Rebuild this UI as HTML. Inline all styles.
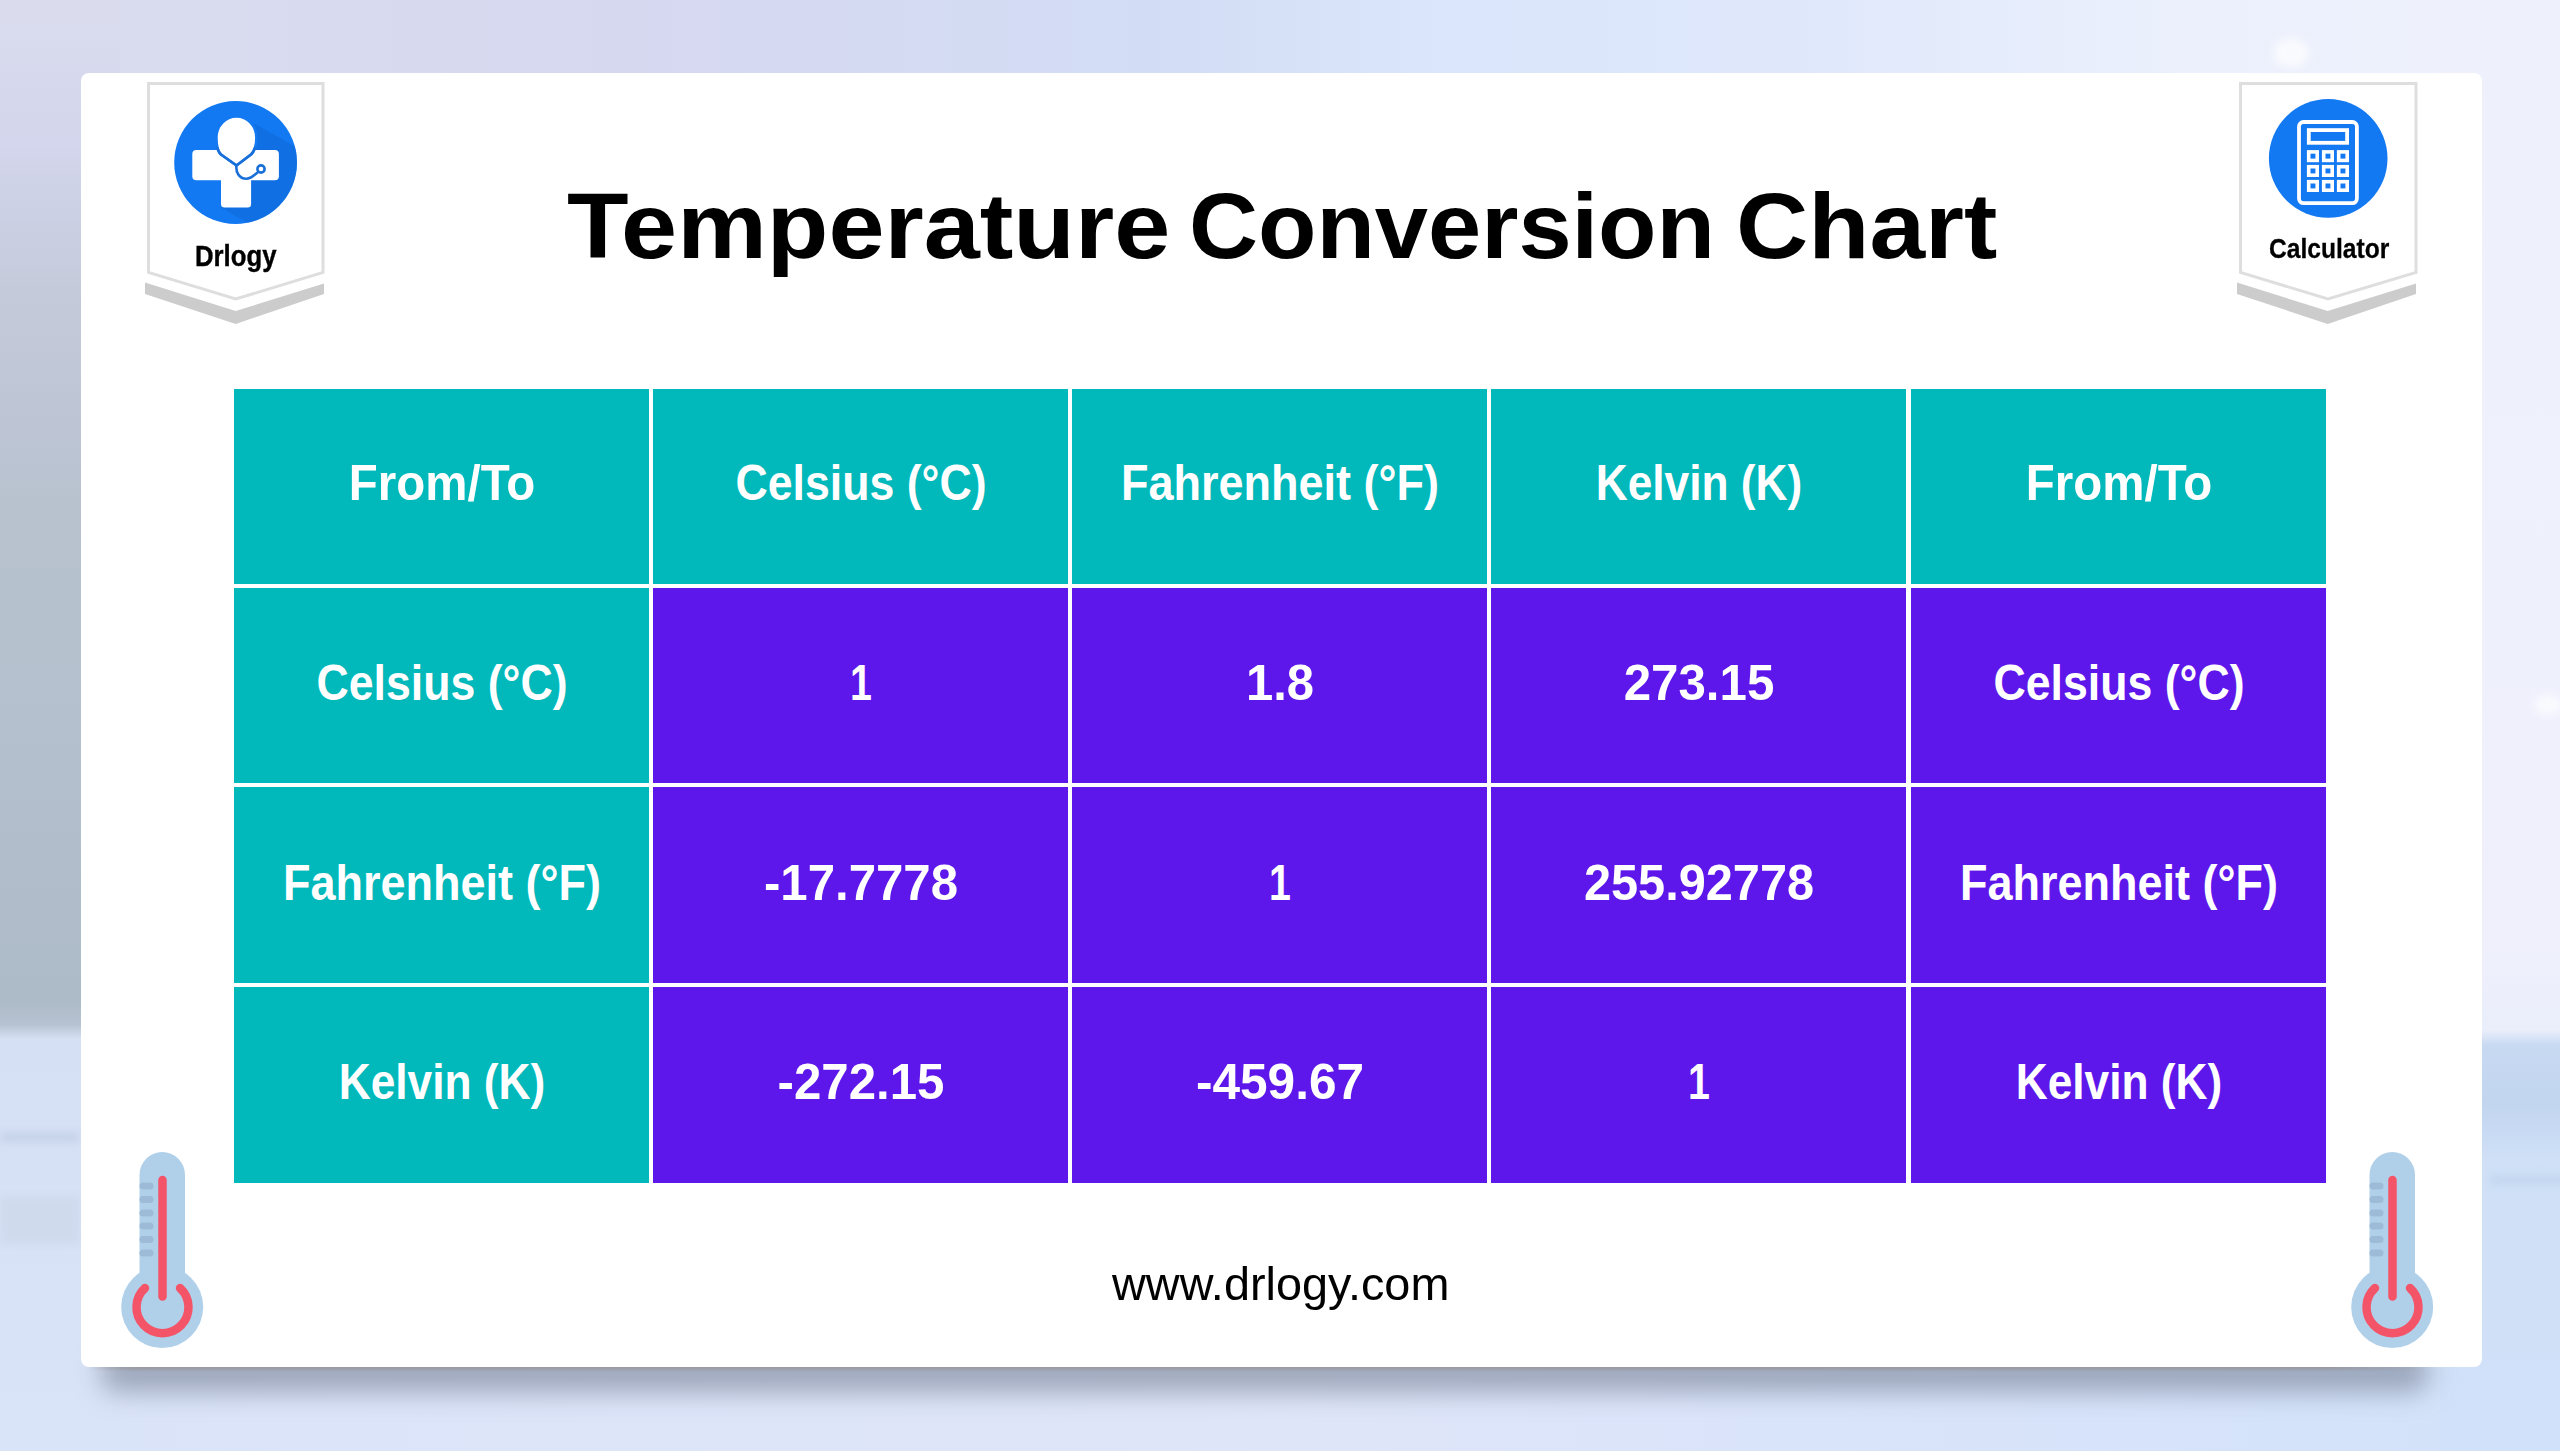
<!DOCTYPE html>
<html><head><meta charset="utf-8">
<style>
html,body{margin:0;padding:0;}
body{width:2560px;height:1451px;position:relative;overflow:hidden;font-family:"Liberation Sans",sans-serif;
background:#d6dcf0;}
.bg{position:absolute;left:0;top:0;width:2560px;height:1451px;}
.card{position:absolute;left:81px;top:73px;width:2401px;height:1294px;background:#fff;border-radius:8px;}
.shadow{position:absolute;left:100px;top:1352px;width:2330px;height:40px;background:rgba(115,125,145,0.6);filter:blur(13px);border-radius:20px;}
.sline{position:absolute;left:88px;top:1365px;width:2340px;height:5px;background:linear-gradient(to right,rgba(150,150,155,0.0),rgba(150,150,155,0.75) 2%,rgba(150,150,155,0.75) 96%,rgba(150,150,155,0));filter:blur(1px);}
.t{position:absolute;white-space:nowrap;line-height:1;}
.title{font-weight:bold;font-size:93px;line-height:93px;color:#000;}
.cell{position:absolute;width:415px;height:195px;}
.teal{background:#01b8bb;}
.purp{background:#5e17eb;}
.ct{position:absolute;width:0;height:49px;color:#fff;font-weight:bold;font-size:49.5px;line-height:49.5px;}
.ct span{position:absolute;left:0;top:0;white-space:nowrap;display:block;transform-origin:50% 50%;}
</style></head>
<body>
<svg class="bg" width="2560" height="1451" viewBox="0 0 2560 1451">
  <defs>
    <filter id="bl8" x="-50%" y="-50%" width="200%" height="200%"><feGaussianBlur stdDeviation="8"/></filter>
    <filter id="bl4" x="-50%" y="-50%" width="200%" height="200%"><feGaussianBlur stdDeviation="4"/></filter>
    <linearGradient id="bgT" x1="0" y1="0" x2="2560" y2="0" gradientUnits="userSpaceOnUse">
      <stop offset="0" stop-color="#dadcee"/>
      <stop offset="0.25" stop-color="#d6d8f0"/>
      <stop offset="0.45" stop-color="#d2ddf5"/>
      <stop offset="0.55" stop-color="#dae5fb"/>
      <stop offset="0.7" stop-color="#dfe8fb"/>
      <stop offset="0.85" stop-color="#ebf0fc"/>
      <stop offset="1" stop-color="#eef1fc"/>
    </linearGradient>
    <linearGradient id="bgL" x1="0" y1="0" x2="0" y2="1451" gradientUnits="userSpaceOnUse">
      <stop offset="0" stop-color="#dadcee"/>
      <stop offset="0.1" stop-color="#d3d6ec"/>
      <stop offset="0.2" stop-color="#c5cadb"/>
      <stop offset="0.35" stop-color="#b8c2cf"/>
      <stop offset="0.5" stop-color="#b4c0cd"/>
      <stop offset="0.69" stop-color="#adbac7"/>
      <stop offset="0.706" stop-color="#b6c2d1"/>
      <stop offset="0.716" stop-color="#d6e0f4"/>
      <stop offset="1" stop-color="#dae4f8"/>
    </linearGradient>
    <linearGradient id="bgR" x1="0" y1="0" x2="0" y2="1451" gradientUnits="userSpaceOnUse">
      <stop offset="0" stop-color="#eef1fc"/>
      <stop offset="0.65" stop-color="#eff0fc"/>
      <stop offset="0.71" stop-color="#eaeefb"/>
      <stop offset="0.72" stop-color="#c8daf2"/>
      <stop offset="0.76" stop-color="#c2d5ef"/>
      <stop offset="0.8" stop-color="#cfe0f7"/>
      <stop offset="1" stop-color="#d0e1f9"/>
    </linearGradient>
    <linearGradient id="bgB" x1="0" y1="0" x2="2560" y2="0" gradientUnits="userSpaceOnUse">
      <stop offset="0" stop-color="#dae4f8"/>
      <stop offset="0.5" stop-color="#dfe5f9"/>
      <stop offset="1" stop-color="#d2e2fa"/>
    </linearGradient>
  </defs>
  <rect x="0" y="0" width="2560" height="1451" fill="url(#bgB)"/>
  <rect x="0" y="0" width="2560" height="200" fill="url(#bgT)"/>
  <rect x="0" y="0" width="120" height="1451" fill="url(#bgL)"/>
  <rect x="2440" y="0" width="120" height="1451" fill="url(#bgR)"/>
  <g filter="url(#bl4)" opacity="0.7">
    <rect x="0" y="1132" width="80" height="10" fill="#bccbe2"/>
    <rect x="0" y="1195" width="80" height="50" fill="#cdd7ea"/>
    <ellipse cx="2291" cy="53" rx="18" ry="15" fill="#ffffff"/>
    <ellipse cx="2548" cy="705" rx="14" ry="10" fill="#ffffff"/>
    <rect x="2490" y="1175" width="80" height="10" fill="#c0d2ec"/>
  </g>
</svg>
<div class="shadow"></div>
<div class="sline"></div>
<div class="card"></div>

<!-- title -->
<div class="t title" style="left:567px;top:179.5px;transform-origin:0 0;transform:scaleX(1.084)">Temperature</div>
<div class="t title" style="left:1189px;top:179.5px;transform-origin:0 0;transform:scaleX(1.028)">Conversion</div>
<div class="t title" style="left:1736px;top:179.5px;transform-origin:0 0;transform:scaleX(1.076)">Chart</div>

<!-- table -->
<div id="table">
<div class="cell teal" style="left:234px;top:389px;height:195px"></div>
<div class="cell teal" style="left:653px;top:389px;height:195px"></div>
<div class="cell teal" style="left:1072px;top:389px;height:195px"></div>
<div class="cell teal" style="left:1491px;top:389px;height:195px"></div>
<div class="cell teal" style="left:1911px;top:389px;height:195px"></div>
<div class="cell teal" style="left:234px;top:588px;height:195px"></div>
<div class="cell purp" style="left:653px;top:588px;height:195px"></div>
<div class="cell purp" style="left:1072px;top:588px;height:195px"></div>
<div class="cell purp" style="left:1491px;top:588px;height:195px"></div>
<div class="cell purp" style="left:1911px;top:588px;height:195px"></div>
<div class="cell teal" style="left:234px;top:787px;height:196px"></div>
<div class="cell purp" style="left:653px;top:787px;height:196px"></div>
<div class="cell purp" style="left:1072px;top:787px;height:196px"></div>
<div class="cell purp" style="left:1491px;top:787px;height:196px"></div>
<div class="cell purp" style="left:1911px;top:787px;height:196px"></div>
<div class="cell teal" style="left:234px;top:987px;height:196px"></div>
<div class="cell purp" style="left:653px;top:987px;height:196px"></div>
<div class="cell purp" style="left:1072px;top:987px;height:196px"></div>
<div class="cell purp" style="left:1491px;top:987px;height:196px"></div>
<div class="cell purp" style="left:1911px;top:987px;height:196px"></div>
<div class="ct" style="left:441.5px;top:458.0px"><span style="transform:translateX(-50%) scaleX(0.9592)">From/To</span></div>
<div class="ct" style="left:860.5px;top:458.0px"><span style="transform:translateX(-50%) scaleX(0.9024)">Celsius (°C)</span></div>
<div class="ct" style="left:1279.5px;top:458.0px"><span style="transform:translateX(-50%) scaleX(0.9093)">Fahrenheit (°F)</span></div>
<div class="ct" style="left:1699.0px;top:458.0px"><span style="transform:translateX(-50%) scaleX(0.8946)">Kelvin (K)</span></div>
<div class="ct" style="left:2118.5px;top:458.0px"><span style="transform:translateX(-50%) scaleX(0.9592)">From/To</span></div>
<div class="ct" style="left:441.5px;top:658.0px"><span style="transform:translateX(-50%) scaleX(0.9024)">Celsius (°C)</span></div>
<div class="ct" style="left:860.5px;top:658.0px"><span style="transform:translateX(-50%) scaleX(0.7936)">1</span></div>
<div class="ct" style="left:1279.5px;top:658.0px"><span style="transform:translateX(-50%) scaleX(0.9896)">1.8</span></div>
<div class="ct" style="left:1699.0px;top:658.0px"><span style="transform:translateX(-50%) scaleX(0.9955)">273.15</span></div>
<div class="ct" style="left:2118.5px;top:658.0px"><span style="transform:translateX(-50%) scaleX(0.9024)">Celsius (°C)</span></div>
<div class="ct" style="left:441.5px;top:857.5px"><span style="transform:translateX(-50%) scaleX(0.9093)">Fahrenheit (°F)</span></div>
<div class="ct" style="left:860.5px;top:857.5px"><span style="transform:translateX(-50%) scaleX(0.9935)">-17.7778</span></div>
<div class="ct" style="left:1279.5px;top:857.5px"><span style="transform:translateX(-50%) scaleX(0.7936)">1</span></div>
<div class="ct" style="left:1699.0px;top:857.5px"><span style="transform:translateX(-50%) scaleX(0.9837)">255.92778</span></div>
<div class="ct" style="left:2118.5px;top:857.5px"><span style="transform:translateX(-50%) scaleX(0.9093)">Fahrenheit (°F)</span></div>
<div class="ct" style="left:441.5px;top:1057.2px"><span style="transform:translateX(-50%) scaleX(0.8946)">Kelvin (K)</span></div>
<div class="ct" style="left:860.5px;top:1057.2px"><span style="transform:translateX(-50%) scaleX(0.9935)">-272.15</span></div>
<div class="ct" style="left:1279.5px;top:1057.2px"><span style="transform:translateX(-50%) scaleX(1.0014)">-459.67</span></div>
<div class="ct" style="left:1699.0px;top:1057.2px"><span style="transform:translateX(-50%) scaleX(0.7936)">1</span></div>
<div class="ct" style="left:2118.5px;top:1057.2px"><span style="transform:translateX(-50%) scaleX(0.8946)">Kelvin (K)</span></div>
</div>

<!-- footer -->
<div class="t" id="footer" style="left:1112px;top:1261px;font-size:46px;color:#000;transform-origin:0 0;transform:scaleX(1.018)">www.drlogy.com</div>

<!-- badges + icons -->
<svg style="position:absolute;left:0;top:0" width="2560" height="1451" viewBox="0 0 2560 1451">
  <!-- left badge -->
  <polygon points="145,282.5 235.7,311 324,283.5 324,294 235.7,324 145,294" fill="#cccccc"/>
  <polygon points="148.5,83.5 323,83.5 323,272.5 235.7,299 148.5,272.5" fill="#fff" stroke="#dedede" stroke-width="3"/>
  <!-- right badge -->
  <polygon points="2237,282.5 2327.7,311 2416,283.5 2416,294 2327.7,324 2237,294" fill="#cccccc"/>
  <polygon points="2240.5,83.5 2416,83.5 2416,272.5 2328,299 2240.5,272.5" fill="#fff" stroke="#dedede" stroke-width="3"/>

  <!-- drlogy logo -->
  <defs><clipPath id="cc"><circle cx="235.6" cy="162.5" r="61.4"/></clipPath></defs>
  <circle cx="235.6" cy="162.5" r="61.4" fill="#1279f2"/>
  <g clip-path="url(#cc)">
    <polygon points="254.9,123.8 454.9,238 421,321.6 221,207.6 236,150" fill="#0f67d6" opacity="0.55"/>
  </g>
  <rect x="192.3" y="150" width="86.6" height="30.2" rx="4" fill="#fff"/>
  <rect x="221" y="165" width="30.1" height="42.6" rx="3.5" fill="#fff"/>
  <clipPath id="hc"><rect x="150" y="147" width="150" height="60"/></clipPath>
  <path d="M236.5,165.5 L221,154.5 C217.5,151.5 216.4,145 216.4,137.5 C216.4,125.5 225.5,116.5 236.5,116.5 C247.5,116.5 256.4,125.5 256.4,138 C256.4,145 254.5,151 251,154.5 Z" fill="#fff" stroke="#1279f2" stroke-width="2.6" stroke-linejoin="round"/>
  <path d="M236.5,165.5 L221,154.5 C217.5,151.5 216.4,145 216.4,137.5 M256.4,138 C256.4,145 254.5,151 251,154.5 L236.5,165.5" fill="none" stroke="#1a70d8" stroke-width="2.6" stroke-linejoin="round" clip-path="url(#hc)"/>
  <path d="M236.5,165 C235.5,172 239,178.8 246.4,178.8 C251,178.8 255,174.5 258.2,172" fill="none" stroke="#1a70d8" stroke-width="2.6" stroke-linecap="round"/>
  <circle cx="261" cy="169" r="3.6" fill="none" stroke="#1a70d8" stroke-width="2.6"/>

  <!-- calculator logo -->
  <circle cx="2328.2" cy="158.4" r="59.3" fill="#1279f2"/>
  <rect x="2299" y="122" width="57.9" height="81.1" rx="4.5" fill="none" stroke="#fff" stroke-width="3.8"/>
  <rect x="2308.8" y="130.1" width="38.3" height="12.7" fill="none" stroke="#fff" stroke-width="3.8"/>
  <g fill="none" stroke="#fff" stroke-width="3.6">
    <rect x="2308.7" y="151.9" width="8.5" height="8.5"/>
    <rect x="2323.7" y="151.9" width="8.5" height="8.5"/>
    <rect x="2338.7" y="151.9" width="8.5" height="8.5"/>
    <rect x="2308.7" y="166.7" width="8.5" height="8.5"/>
    <rect x="2323.7" y="166.7" width="8.5" height="8.5"/>
    <rect x="2338.7" y="166.7" width="8.5" height="8.5"/>
    <rect x="2308.7" y="181.7" width="8.5" height="8.5"/>
    <rect x="2323.7" y="181.7" width="8.5" height="8.5"/>
    <rect x="2338.7" y="181.7" width="8.5" height="8.5"/>
  </g>

  <!-- thermometers -->
  <g id="thermo">
    <rect x="139.5" y="1152" width="45.5" height="150" rx="22.75" fill="#b0d0ea"/>
    <circle cx="162.2" cy="1307" r="41" fill="#b0d0ea"/>
    <g fill="#9dbbd6">
      <rect x="139.5" y="1182.5" width="14" height="7" rx="3.5"/>
      <rect x="139.5" y="1196" width="14" height="7" rx="3.5"/>
      <rect x="139.5" y="1209.5" width="14" height="7" rx="3.5"/>
      <rect x="139.5" y="1222.5" width="14" height="7" rx="3.5"/>
      <rect x="139.5" y="1236" width="14" height="7" rx="3.5"/>
      <rect x="139.5" y="1249.5" width="14" height="7" rx="3.5"/>
    </g>
    <line x1="162.5" y1="1180" x2="162.5" y2="1296.5" stroke="#f45467" stroke-width="8.5" stroke-linecap="round"/>
    <path d="M145,1288 A26,26 0 1 0 180,1288" fill="none" stroke="#f45467" stroke-width="8.5" stroke-linecap="round"/>
  </g>
  <use href="#thermo" x="2230" y="0"/>
</svg>

<!-- badge labels -->
<div class="t" id="drlogy" style="left:195px;top:241.5px;-webkit-text-stroke:0.4px #000;font-size:29px;font-weight:bold;color:#000;transform-origin:0 0;transform:scaleX(0.887)">Drlogy</div>
<div class="t" id="calc" style="left:2268.5px;top:236px;-webkit-text-stroke:0.3px #000;font-size:27px;font-weight:bold;color:#000;transform-origin:0 0;transform:scaleX(0.911)">Calculator</div>
</body></html>
